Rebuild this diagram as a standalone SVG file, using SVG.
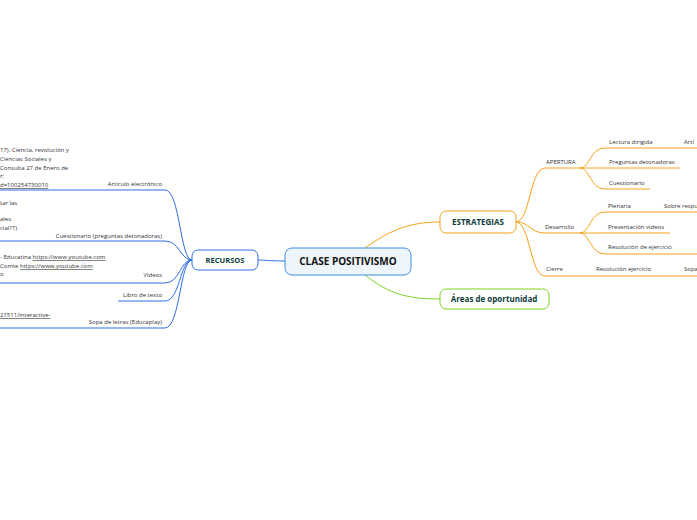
<svg xmlns="http://www.w3.org/2000/svg" width="697" height="520" viewBox="0 0 697 520">
<style>
text{font-family:"Open Sans","Noto Sans",sans-serif;font-size:6px;fill:#333}
.b{stroke:#2f6fe0;stroke-width:1;fill:none}
.o{stroke:#f7a21b;stroke-width:1;fill:none}
.g{stroke:#7ed321;stroke-width:1;fill:none}
.u{text-decoration:underline}
.t{font-weight:bold;font-size:9px}
</style>
<rect width="697" height="520" fill="#fff"/>
<g id="connectors">
<path class="b" d="M285 261 C270 261 265 260 258 260"/>
<path class="b" d="M192 260 C180 260 180 190 165 190 L0 190"/>
<path class="b" d="M192 260 C180 260 180 241 165 241 L0 241"/>
<path class="b" d="M192 260 C180 260 180 283 165 283 L0 283"/>
<path class="b" d="M192 260 C180 260 180 301 165 301 L118 301"/>
<path class="b" d="M192 260 C180 260 180 328 165 328 L0 328"/>
<path class="o" d="M365 248 C390 230 410 222 440 222"/>
<path class="g" d="M365 275 C390 295 410 299 440 299"/>
<path class="o" d="M516 222 C530 222 530 168 545 168 L580 168 C590 168 590 148 605 148 L697 148"/>
<path class="o" d="M580 168 C590 168 590 168 605 168 L680 168"/>
<path class="o" d="M580 168 C590 168 590 189 605 189 L650 189"/>
<path class="o" d="M516 222 C530 222 530 233 545 233 L580 233 C590 233 590 212 605 212 L697 212"/>
<path class="o" d="M580 233 C590 233 590 233 605 233 L670 233"/>
<path class="o" d="M580 233 C590 233 590 254 605 254 L697 254"/>
<path class="o" d="M516 222 C530 222 530 276 545 276 L697 276"/>
</g>
<g id="center"><rect x="285" y="248" width="126" height="27" rx="7" fill="#eef5fb" stroke="#3a8ee6"/><text x="348" y="265" text-anchor="middle" class="t" style="font-size:10px;fill:#111">CLASE POSITIVISMO</text></g>
<g id="estrategias"><rect x="440" y="211" width="76" height="22" rx="6" fill="#fff" stroke="#f7a21b"/><text x="478" y="225" text-anchor="middle" class="t" style="fill:#0d3c3c;font-size:8px">ESTRATEGIAS</text></g>
<g id="recursos"><rect x="192" y="250" width="66" height="20" rx="6" fill="#fff" stroke="#2f6fe0"/><text x="225" y="263" text-anchor="middle" class="t" style="fill:#0d3c3c;font-size:7.5px">RECURSOS</text></g>
<g id="areas"><rect x="440" y="289" width="109" height="20" rx="6" fill="#fff" stroke="#7ed321"/><text x="494" y="302" text-anchor="middle" class="t" style="fill:#0d3c3c;font-size:8px">Áreas de oportunidad</text></g>
<g id="recursos-items">
<text x="162" y="186" text-anchor="end">Artículo electrónico</text>
<text x="0" y="152">17). Ciencia, revolución y</text>
<text x="0" y="161">Ciencias Sociales y</text>
<text x="0" y="170">Consulta 27 de Enero de</text>
<text x="0" y="178">r:</text>
<text x="0" y="187" class="u">d=100254730010</text>
<text x="162" y="238" text-anchor="end">Cuestionario (preguntas detonadoras)</text>
<text x="0" y="205">tar las</text>
<text x="0" y="221">ales</text>
<text x="0" y="230">cial?7)</text>
<text x="162" y="277" text-anchor="end">Videos</text>
<text x="0" y="259">- Educatina <tspan class="u">https://www.youtube.com</tspan></text>
<text x="0" y="268">Comte <tspan class="u">https://www.youtube.com</tspan></text>
<text x="0" y="276">o</text>
<text x="162" y="297" text-anchor="end">Libro de texto</text>
<text x="162" y="324" text-anchor="end">Sopa de letras (Educaplay)</text>
<text x="0" y="317" class="u">21511/interactive-</text>
</g>
<g id="estrategias-items">
<text x="546" y="164">APERTURA</text>
<text x="609" y="144">Lectura dirigida</text>
<text x="684" y="144">Artí</text>
<text x="609" y="164">Preguntas detonadoras</text>
<text x="609" y="185">Cuestionario</text>
<text x="545" y="229">Desarrollo</text>
<text x="608" y="208">Plenaria</text>
<text x="664" y="208">Sobre respu</text>
<text x="608" y="229">Presentación videos</text>
<text x="608" y="249">Resolución de ejercicio</text>
<text x="546" y="271">Cierre</text>
<text x="596" y="271">Resolución ejercicio</text>
<text x="684" y="271">Sopa</text>
</g>
</svg>
